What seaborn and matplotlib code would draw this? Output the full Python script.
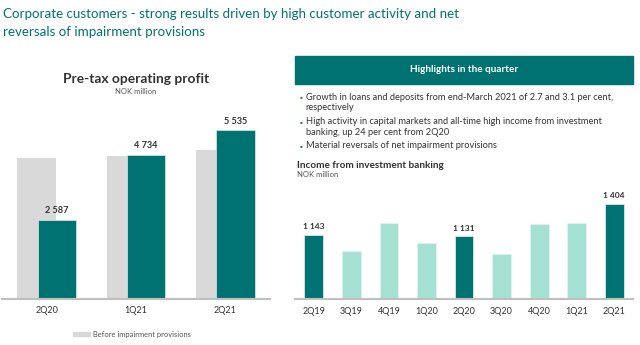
import matplotlib
matplotlib.use("Agg")
import matplotlib.pyplot as plt
from matplotlib.patches import Rectangle
import seaborn as sns
import pandas as pd

# ---- data -------------------------------------------------------------
profit_quarters = ["2Q20", "1Q21", "2Q21"]
profit_before_impairment = [4640, 4685, 4890]
profit_pretax = [2587, 4734, 5535]

ib_quarters = ["2Q19", "3Q19", "4Q19", "1Q20", "2Q20", "3Q20", "4Q20", "1Q21", "2Q21"]
ib_income = [1143, 1010, 1242, 1072, 1131, 979, 1234, 1248, 1404]
ib_highlight = [True, False, False, False, True, False, False, False, True]

bullets = [
    "Growth in loans and deposits from end-March 2021 of 2.7 and 3.1 per cent,\nrespectively",
    "High activity in capital markets and all-time high income from investment\nbanking, up 24 per cent from 2Q20",
    "Material reversals of net impairment provisions",
]

# ---- style ------------------------------------------------------------
TEAL = "#007272"
MINT = "#A5E1D2"
GREY = "#D9D9D9"
TEXT = "#333333"
AXIS = "#BFBFBF"

sns.set_theme(style="white")
plt.rcParams["font.family"] = ["Lato", "DejaVu Sans"]

W, H = 640, 345
fig = plt.figure(figsize=(W / 100, H / 100), dpi=100)


def fx(x):
    return x / W


def fy(y):
    return 1 - y / H


def axes_px(left, top, right, bottom):
    return fig.add_axes([fx(left), fy(bottom), (right - left) / W, (bottom - top) / H])


def fmt(v):
    return f"{v:,}".replace(",", " ")


# ---- heading ----------------------------------------------------------
fig.text(fx(3), fy(14), "Corporate customers - strong results driven by high customer activity and net",
         color=TEAL, fontsize=9.65, va="center", ha="left")
fig.text(fx(3), fy(32), "reversals of impairment provisions",
         color=TEAL, fontsize=9.65, va="center", ha="left")

# ---- left: pre-tax operating profit ----------------------------------
fig.text(fx(136), fy(79), "Pre-tax operating profit", fontsize=9.9, fontweight="bold",
         color=TEXT, ha="center", va="center")
fig.text(fx(136), fy(92), "NOK million", fontsize=5.5, color="#555555", ha="center", va="center")

ax1 = axes_px(2, 100, 270, 298.7)
df1 = pd.DataFrame({"quarter": profit_quarters,
                    "before": profit_before_impairment,
                    "pretax": profit_pretax})
bar_w, shift = 0.43, 0.113

sns.barplot(data=df1, x="quarter", y="before", color=GREY, width=bar_w,
            saturation=1, linewidth=0, ax=ax1)
n_grey = len(ax1.patches)
for p in ax1.patches:
    p.set_x(p.get_x() - shift)

sns.barplot(data=df1, x="quarter", y="pretax", color=TEAL, width=bar_w,
            saturation=1, edgecolor="#d8ecea", linewidth=0.5, ax=ax1)
for p in ax1.patches[n_grey:]:
    p.set_x(p.get_x() + shift)

ax1.bar_label(ax1.containers[1], labels=[fmt(v) for v in profit_pretax], padding=3.5,
              fontsize=6.6, fontweight="bold", color=TEXT)
ax1.set_xlim(-0.5, 2.5)
ax1.set_ylim(0, (298.7 - 100) * 32.9)
ax1.set_xlabel("")
ax1.set_ylabel("")
ax1.set_yticks([])
ax1.tick_params(axis="x", length=0, labelsize=6.5, labelcolor=TEXT, pad=5)
sns.despine(ax=ax1, left=True)
ax1.spines["bottom"].set_color(AXIS)
ax1.spines["bottom"].set_linewidth(1.5)
ax1.patch.set_alpha(0)

# legend
fig.patches.append(Rectangle((fx(73), fy(336)), (90 - 73) / W, 4 / H,
                             transform=fig.transFigure, color=GREY))
fig.text(fx(93), fy(334), "Before impairment provisions", fontsize=5.4, color="#555555",
         ha="left", va="center")

# ---- right: highlights panel -----------------------------------------
fig.patches.append(Rectangle((fx(295), fy(84)), (633 - 295) / W, 28 / H,
                             transform=fig.transFigure, color=TEAL))
fig.text(fx(464), fy(70), "Highlights in the quarter", fontsize=7.2, fontweight="bold",
         color="white", ha="center", va="center")

bullet_y = [97, 121.7, 145.7]
for y, txt in zip(bullet_y, bullets):
    fig.text(fx(299), fy(y), "\u25aa", fontsize=5, color=TEAL, ha="left", va="center")
    fig.text(fx(305.5), fy(y - 4.5), txt, fontsize=6.65, color=TEXT, ha="left", va="top",
             linespacing=1.25)

fig.text(fx(297), fy(165), "Income from investment banking", fontsize=7.2, fontweight="bold",
         color=TEXT, ha="left", va="center")
fig.text(fx(297), fy(174.5), "NOK million", fontsize=5.5, color="#555555", ha="left", va="center")

ax2 = axes_px(295, 190, 633, 299)
df2 = pd.DataFrame({"quarter": ib_quarters, "income": ib_income})
sns.barplot(data=df2, x="quarter", y="income", hue="quarter",
            palette=[TEAL if h else MINT for h in ib_highlight], legend=False,
            width=0.5, saturation=1, edgecolor="#e6f4f1", linewidth=0.5, ax=ax2)
for cont, v, h in zip(ax2.containers, ib_income, ib_highlight):
    if h:
        ax2.bar_label(cont, labels=[fmt(v)], padding=3.5, fontsize=6.0,
                      fontweight="bold", color=TEXT)
ax2.set_xlim(-0.5, 8.5)
ax2.set_ylim(599, 599 + 109 * 8.5)
ax2.set_xlabel("")
ax2.set_ylabel("")
ax2.set_yticks([])
ax2.tick_params(axis="x", length=0, labelsize=6.5, labelcolor=TEXT, pad=6)
sns.despine(ax=ax2, left=True)
ax2.spines["bottom"].set_color(AXIS)
ax2.spines["bottom"].set_linewidth(1.5)
ax2.patch.set_alpha(0)

fig.savefig("out.png", dpi=100)
